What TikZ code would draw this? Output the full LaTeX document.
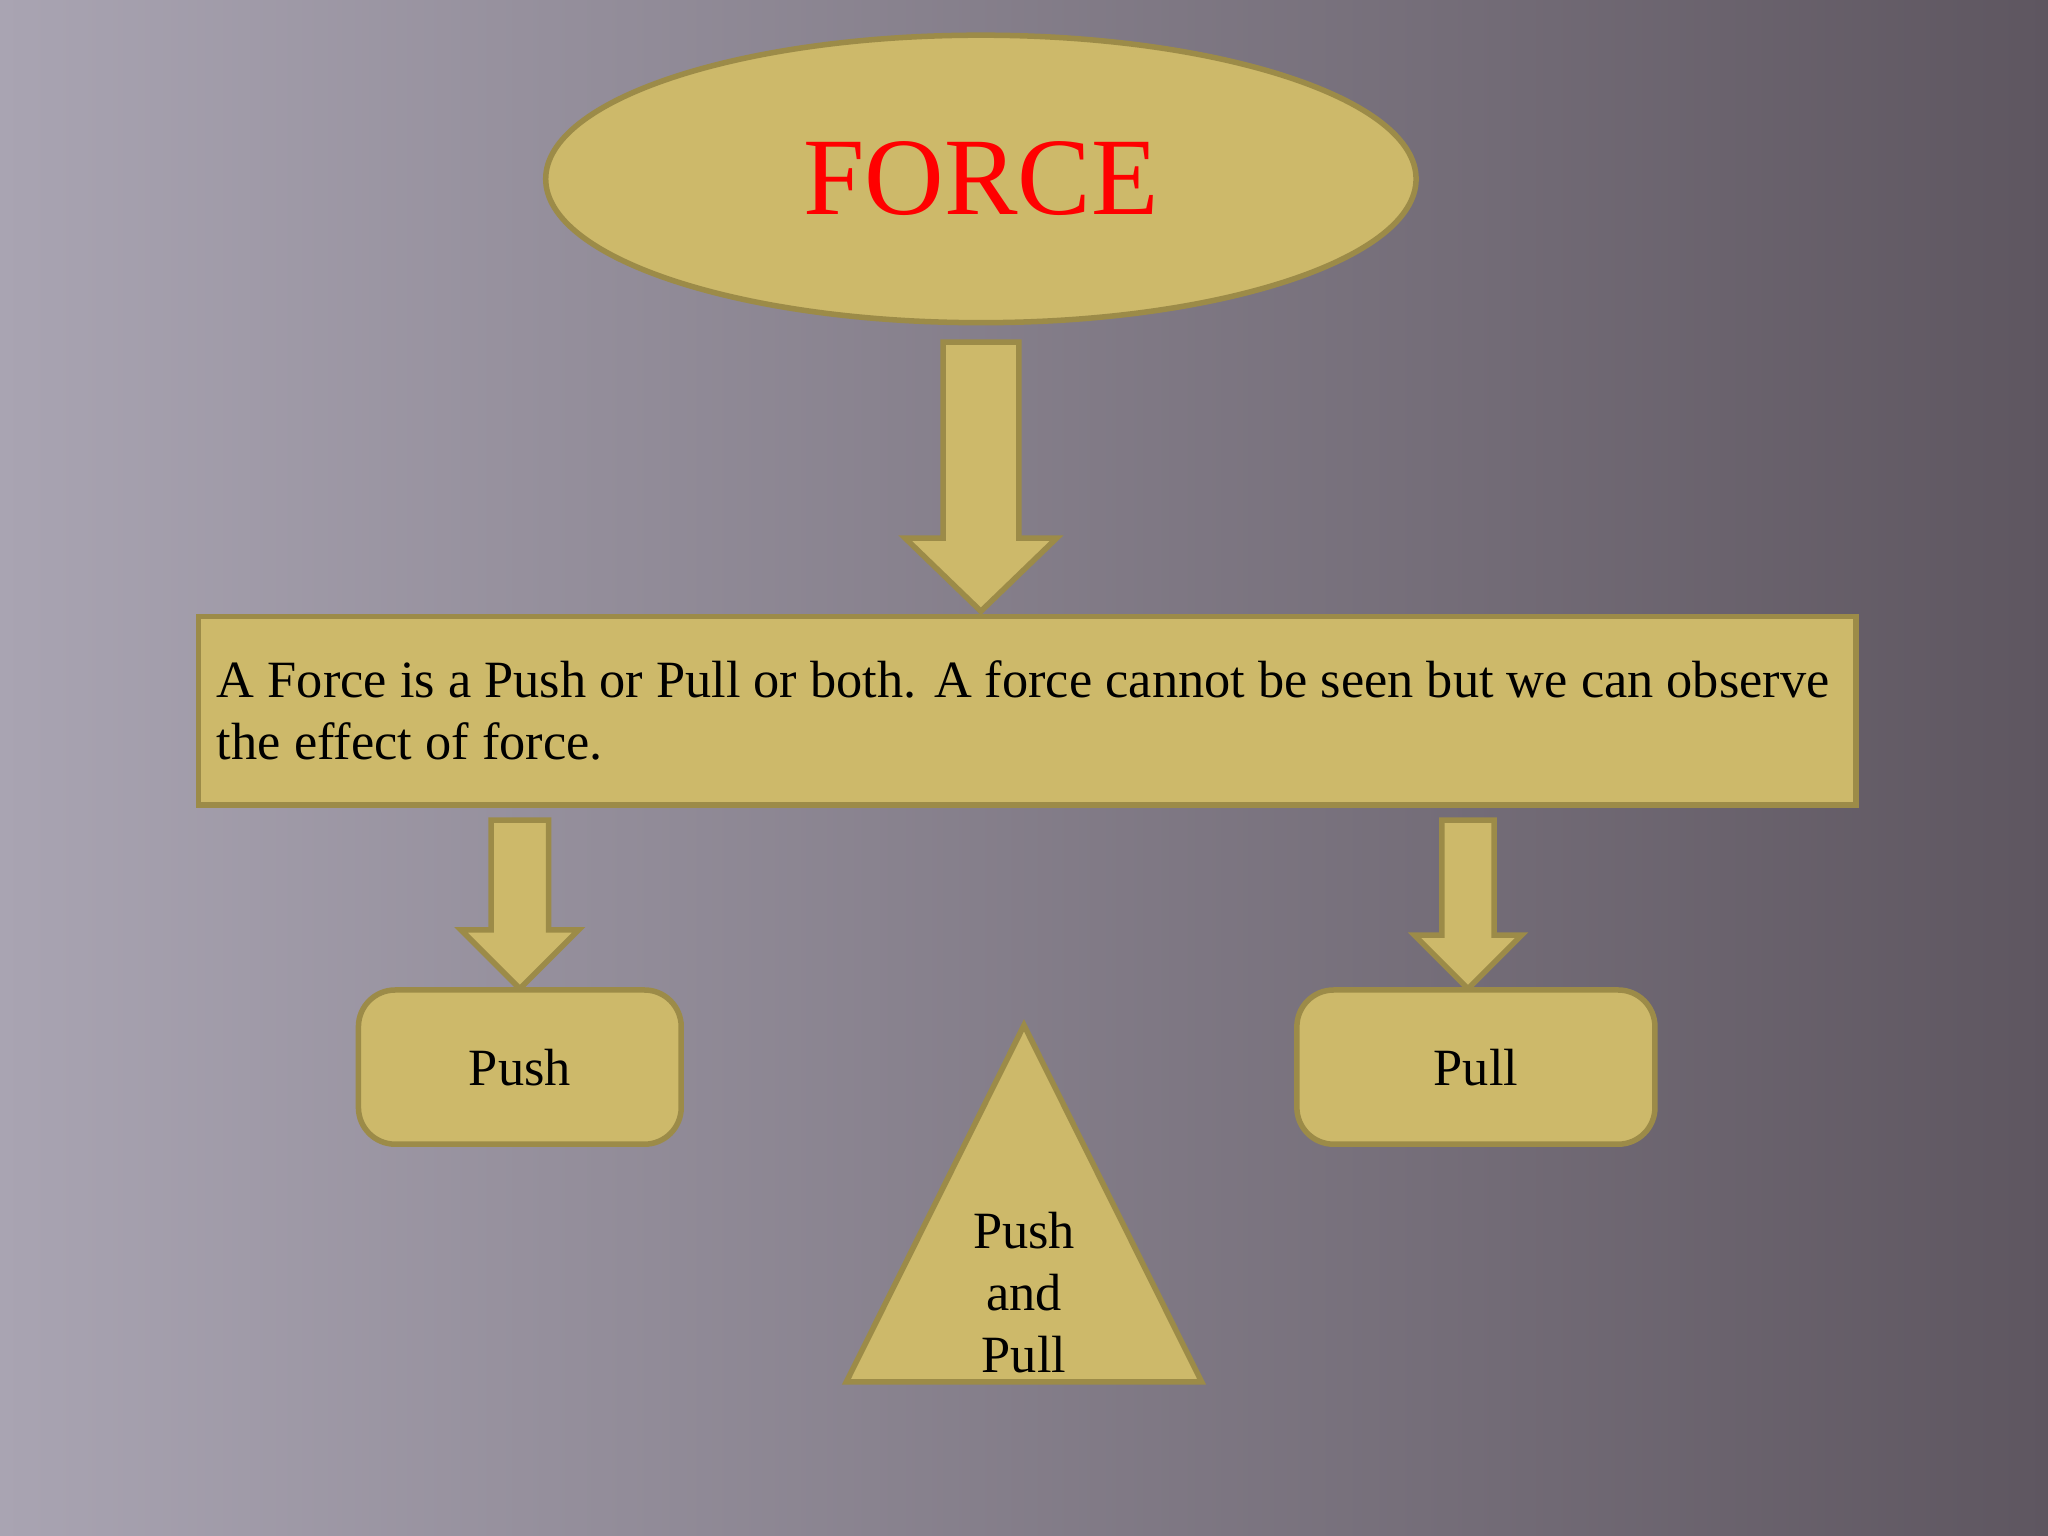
\documentclass[tikz,border=0pt]{standalone}
\usepackage{fontspec}
\setmainfont{Liberation Serif}
\usetikzlibrary{shapes.geometric}
\definecolor{khaki}{HTML}{CDB96A}
\definecolor{khakiedge}{HTML}{9C8B48}
\definecolor{bgleft}{HTML}{A9A4B2}
\definecolor{bgright}{HTML}{5E5660}
\tikzset{
  box/.style={fill=khaki,draw=khakiedge,line width=1.2pt},
  blockarrow/.style={fill=khaki,draw=khakiedge,line width=1.2pt,line join=miter}
}
\newcommand{\downarrowat}[6]{% x, shaft half width, head half width, top, neck, tip
  \draw[blockarrow] (#1-#2,-#4) -- (#1+#2,-#4) -- (#1+#2,-#5) -- (#1+#3,-#5)
    -- (#1,-#6) -- (#1-#3,-#5) -- (#1-#2,-#5) -- cycle;}
\begin{document}
\begin{tikzpicture}[x=0.01cm,y=0.01cm]
 	\shade[left color=bgleft,right color=bgright] (0,0) rectangle (1568,-1176);
 	\useasboundingbox (0,0) rectangle (1568,-1176);

 	\node[box,ellipse,minimum width=6.66cm,minimum height=2.2cm] (force) at (751,-137)
 	  {\fontsize{24}{28}\selectfont\color{red}FORCE};
 	\downarrowat{751}{29}{58}{262}{412}{468}

 	\node[box,rectangle,minimum width=12.68cm,minimum height=1.44cm,anchor=north west,
 	  font=\fontsize{11.4}{13.5}\selectfont] (defn) at (150,-470)
 	  {\parbox{12.4cm}{\raggedright\hyphenpenalty=10000 A Force is a Push or Pull or both. A force cannot be seen but we can observe the effect of force.}};

 	\downarrowat{398}{22}{45}{628}{712}{757}
 	\downarrowat{1124}{20}{41}{628}{716}{757}

 	\node[box,rounded corners=8pt,minimum width=2.47cm,minimum height=1.18cm,
 	  font=\fontsize{11.4}{13.5}\selectfont] (push) at (398,-817) {Push};
 	\node[box,rounded corners=8pt,minimum width=2.74cm,minimum height=1.18cm,
 	  font=\fontsize{11.4}{13.5}\selectfont] (pull) at (1130,-817) {Pull};

 	\draw[box] (784,-785) -- (920,-1058) -- (648,-1058) -- cycle;
 	\node[align=center,font=\fontsize{11.4}{13.5}\selectfont] (both) at (784,-990) {Push\\and\\Pull};
\end{tikzpicture}
\end{document}
